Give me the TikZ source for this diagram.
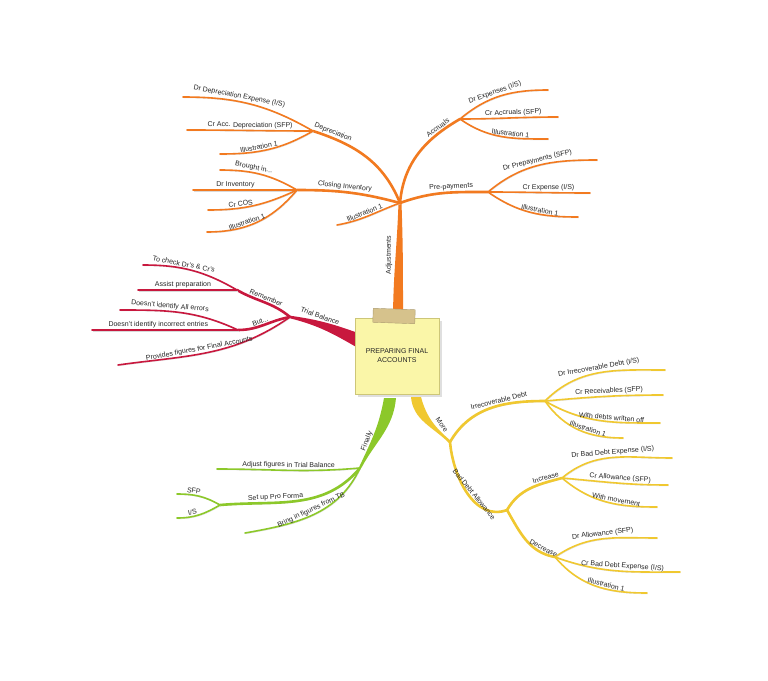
\documentclass[tikz,border=0pt]{standalone}
\usepackage{fontspec}
\setmainfont{Liberation Sans}
\usetikzlibrary{calc, shadows}
\definecolor{mmorange}{RGB}{242,122,32}
\definecolor{mmred}{RGB}{200,24,62}
\definecolor{mmgreen}{RGB}{140,200,42}
\definecolor{mmyellow}{RGB}{240,200,48}
\definecolor{notefill}{RGB}{250,246,168}
\definecolor{noteedge}{RGB}{205,198,120}
\definecolor{tapefill}{RGB}{214,194,140}

\begin{document}
\begin{tikzpicture}[x=1pt, y=-1pt,
    lbl/.style={font=\fontsize{7}{8}\selectfont, text=black!85, sloped, above, inner sep=1pt},
    title/.style={font=\fontsize{7}{8}\selectfont, text=black!85, inner sep=1pt},
    shade/.style={preaction={draw=black!15, transform canvas={shift={(0.6pt,-0.9pt)}}}},
    leaf/.style={shade, line width=1.6pt, line cap=round},
    limb/.style={shade, line width=2.6pt, line cap=round},
    note/.style={draw=noteedge, fill=notefill, minimum width=84pt, minimum height=76pt,
        align=center, font=\fontsize{7}{9}\selectfont, text=black!85, drop shadow={opacity=0.25}},
    tape/.style={draw=tapefill!80!black, fill=tapefill, minimum width=42pt, minimum height=14pt}]
    \fill[white] (0,0) rectangle (768,680);
    \useasboundingbox (0,0) rectangle (768,680);

    \coordinate (adj) at (400,203);
    \coordinate (dep) at (313,131);
    \coordinate (cinv) at (297,190);
    \coordinate (accr) at (460,119);
    \coordinate (prep) at (488,192);
    \coordinate (tb) at (290,317);
    \coordinate (rem) at (237,290);
    \coordinate (but) at (238,330);
    \coordinate (fin) at (360,468);
    \coordinate (pro) at (220,505);
    \coordinate (more) at (450,442);
    \coordinate (irr) at (545,401);
    \coordinate (bda) at (507,510);
    \coordinate (inc) at (562,478);
    \coordinate (dec) at (555,557);

    \coordinate (adjroot) at (398,322);
    \coordinate (tbroot) at (358,340);
    \coordinate (finroot) at (390,398);
    \coordinate (moreroot) at (416,397);

    \fill[mmorange] ($(adjroot)+(-5,0)$) to[out=90,in=-92] ($(adj)+(-1.5,0)$) -- ($(adj)+(1.5,0)$) to[out=-88,in=90] ($(adjroot)+(5,0)$) -- cycle;
    \fill[mmred] ($(tbroot)+(0,-7)$) to[out=160,in=-8] ($(tb)+(0,-1.3)$) -- ($(tb)+(0,1.3)$) to[out=-14,in=150] ($(tbroot)+(0,8)$) -- cycle;
    \fill[mmgreen] ($(finroot)+(-6,0)$) to[out=-100,in=65] ($(fin)+(-1.3,0)$) -- ($(fin)+(1.3,0)$) to[out=62,in=-95] ($(finroot)+(6,0)$) -- cycle;
    \fill[mmyellow] ($(moreroot)+(-5,0)$) to[out=-85,in=135] ($(more)+(-1,1)$) -- ($(more)+(1,-1)$) to[out=140,in=-75] ($(moreroot)+(5,0)$) -- cycle;

    \node[note] (core) at (397,356) {PREPARING FINAL\\ACCOUNTS};
    \node[tape, rotate=-2] (clip) at (394,316) {};

    \node[title, rotate=90] (t-adj) at (389,255) {Adjustments};
    \node[title, rotate=-20] (t-tb) at (320,316) {Trial Balance};
    \node[title, rotate=68] (t-fin) at (367,441) {Finally};
    \node[title, rotate=-55] (t-more) at (442,425) {More};

    \draw[limb, mmorange] (adj) to[out=112,in=-18] node[lbl, pos=0.85] (t-dep) {Depreciation} (dep);
    \draw[limb, mmorange] (adj) to[out=165,in=0] node[lbl, pos=0.55] (t-cinv) {Closing Inventory} (cinv);
    \draw[leaf, mmorange] (adj) to[out=200,in=10] node[lbl, pos=0.55] (t-adjil) {Illustration 1} (337,225);
    \draw[limb, mmorange] (adj) to[out=85,in=-150] node[lbl, pos=0.8] (t-accr) {Accruals} (accr);
    \draw[limb, mmorange] (adj) to[out=20,in=180] node[lbl, pos=0.6] (t-prep) {Pre-payments} (prep);

    \draw[leaf, mmorange] (dep) to[out=150,in=0] node[lbl, pos=0.6] (t-dep1) {Dr Depreciation Expense (I/S)} (183,97);
    \draw[leaf, mmorange] (dep) to[out=180,in=0] node[lbl, pos=0.5] (t-dep2) {Cr Acc. Depreciation (SFP)} (187,130);
    \draw[leaf, mmorange] (dep) to[out=210,in=0] node[lbl, pos=0.6] (t-dep3) {Illustration 1} (220,154);

    \draw[leaf, mmorange] (cinv) to[out=150,in=0] node[lbl, pos=0.6] (t-ci1) {Brought in...} (220,170);
    \draw[leaf, mmorange] (cinv) to[out=180,in=0] node[lbl, pos=0.6] (t-ci2) {Dr Inventory} (193,190);
    \draw[leaf, mmorange] (cinv) to[out=205,in=0] node[lbl, pos=0.65] (t-ci3) {Cr COS} (208,210);
    \draw[leaf, mmorange] (cinv) to[out=230,in=0] node[lbl, pos=0.6] (t-ci4) {Illustration 1} (207,232);

    \draw[leaf, mmorange] (accr) to[out=40,in=180] node[lbl, pos=0.45] (t-ac1) {Dr Expenses (I/S)} (548,90);
    \draw[leaf, mmorange] (accr) to[out=0,in=180] node[lbl, pos=0.55] (t-ac2) {Cr Accruals (SFP)} (558,117);
    \draw[leaf, mmorange] (accr) to[out=-35,in=180] node[lbl, pos=0.6] (t-ac3) {Illustration 1} (548,139);

    \draw[leaf, mmorange] (prep) to[out=40,in=180] node[lbl, pos=0.5] (t-pr1) {Dr Prepayments (SFP)} (597,160);
    \draw[leaf, mmorange] (prep) to[out=0,in=180] node[lbl, pos=0.6] (t-pr2) {Cr Expense (I/S)} (590,193);
    \draw[leaf, mmorange] (prep) to[out=-35,in=180] node[lbl, pos=0.6] (t-pr3) {Illustration 1} (578,217);

    \draw[limb, mmred] (tb) to[out=140,in=-30] node[lbl, pos=0.5] (t-rem) {Remember} (rem);
    \draw[limb, mmred] (tb) to[out=190,in=0] node[lbl, pos=0.55] (t-but) {But...} (but);
    \draw[leaf, mmred] (tb) to[out=215,in=8] node[lbl, pos=0.55] (t-tb1) {Provides figures for Final Accounts} (118,365);
    \draw[leaf, mmred] (rem) to[out=150,in=0] node[lbl, pos=0.6] (t-re1) {To check Dr's \& Cr's} (143,265);
    \draw[leaf, mmred] (rem) to[out=180,in=0] node[lbl, pos=0.55] (t-re2) {Assist preparation} (138,290);
    \draw[leaf, mmred] (but) to[out=155,in=0] node[lbl, pos=0.6] (t-bu1) {Doesn't identify All errors} (120,310);
    \draw[leaf, mmred] (but) to[out=180,in=0] node[lbl, pos=0.55] (t-bu2) {Doesn't identify incorrect entries} (92,330);

    \draw[leaf, mmgreen] (fin) to[out=185,in=0] node[lbl, pos=0.5] (t-fi1) {Adjust figures in Trial Balance} (217,469);
    \draw[limb, mmgreen] (fin) to[out=230,in=5] node[lbl, pos=0.65] (t-pro) {Set up Pro Forma} (pro);
    \draw[leaf, mmgreen] (fin) to[out=245,in=10] node[lbl, pos=0.5] (t-fi2) {Bring in figures from TB} (245,533);
    \draw[leaf, mmgreen] (pro) to[out=150,in=0] node[lbl, pos=0.65] (t-pr-a) {SFP} (177,494);
    \draw[leaf, mmgreen] (pro) to[out=210,in=0] node[lbl, pos=0.65] (t-pr-b) {I/S} (177,518);

    \draw[limb, mmyellow] (more) to[out=60,in=180] node[lbl, pos=0.6] (t-irr) {Irrecoverable Debt} (irr);
    \draw[limb, mmyellow] (more) to[out=-85,in=200] node[lbl, pos=0.55] (t-bda) {Bad Debt Allowance} (bda);
    \draw[limb, mmyellow] (bda) to[out=60,in=195] node[lbl, pos=0.78] (t-inc) {Increase} (inc);
    \draw[limb, mmyellow] (bda) to[out=-60,in=170] node[lbl, pos=0.8] (t-dec) {Decrease} (dec);

    \draw[leaf, mmyellow] (irr) to[out=45,in=180] node[lbl, pos=0.5] (t-ir1) {Dr Irrecoverable Debt (I/S)} (665,370);
    \draw[leaf, mmyellow] (irr) to[out=5,in=180] node[lbl, pos=0.55] (t-ir2) {Cr Receivables (SFP)} (663,395);
    \draw[leaf, mmyellow] (irr) to[out=-30,in=180] node[lbl, pos=0.6] (t-ir3) {With debts written off} (660,423);
    \draw[leaf, mmyellow] (irr) to[out=-55,in=180] node[lbl, pos=0.6] (t-ir4) {Illustration 1} (623,438);

    \draw[leaf, mmyellow] (inc) to[out=40,in=180] node[lbl, pos=0.5] (t-in1) {Dr Bad Debt Expense (I/S)} (672,458);
    \draw[leaf, mmyellow] (inc) to[out=-5,in=180] node[lbl, pos=0.55] (t-in2) {Cr Allowance (SFP)} (668,485);
    \draw[leaf, mmyellow] (inc) to[out=-40,in=180] node[lbl, pos=0.6] (t-in3) {With movement} (657,507);

    \draw[leaf, mmyellow] (dec) to[out=35,in=180] node[lbl, pos=0.5] (t-de1) {Dr Allowance (SFP)} (657,538);
    \draw[leaf, mmyellow] (dec) to[out=-20,in=180] node[lbl, pos=0.55] (t-de2) {Cr Bad Debt Expense (I/S)} (680,572);
    \draw[leaf, mmyellow] (dec) to[out=-50,in=180] node[lbl, pos=0.6] (t-de3) {Illustration 1} (647,593);
\end{tikzpicture}
\end{document}
